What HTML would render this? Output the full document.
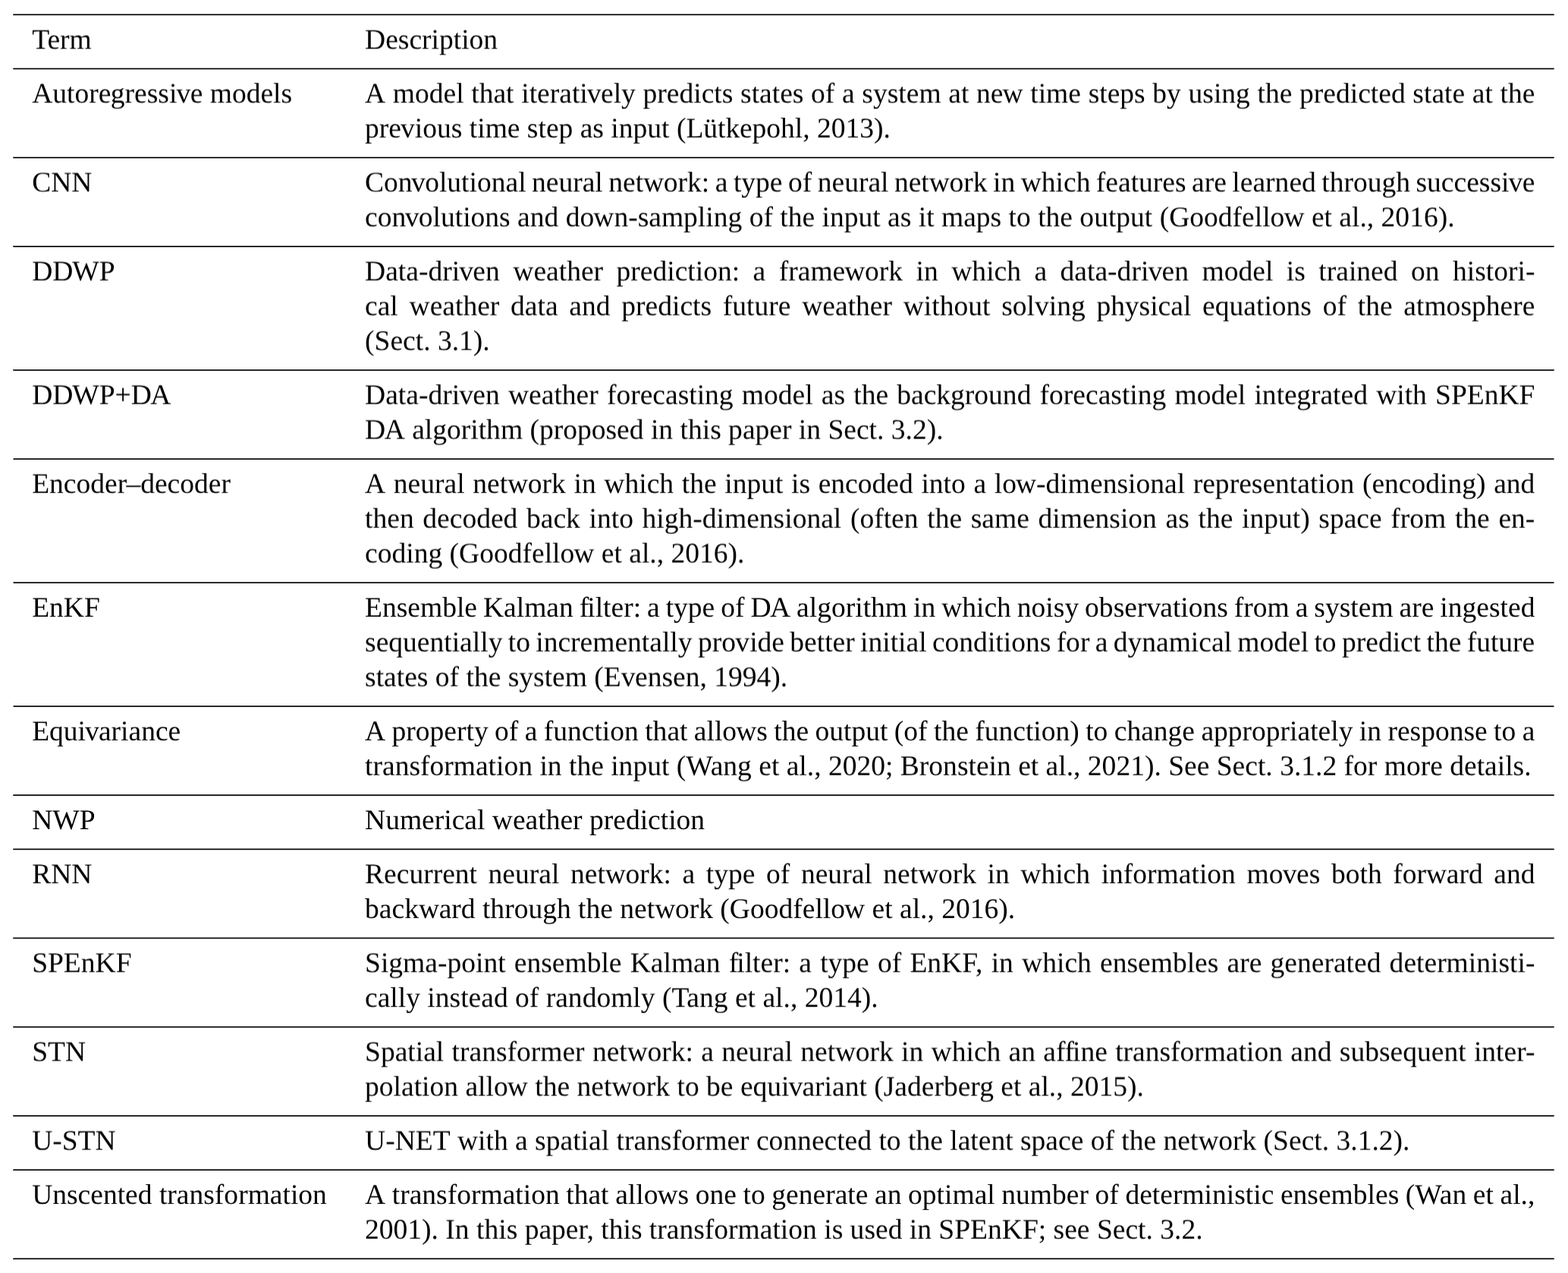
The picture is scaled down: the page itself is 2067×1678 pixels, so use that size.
<!DOCTYPE html>
<html lang="en"><head><meta charset="utf-8"><title>Glossary of terms</title>
<style>
html,body{margin:0;padding:0;background:#fff}
body{width:2067px;height:1678px;position:relative;overflow:hidden;font-family:"Liberation Serif","DejaVu Serif",serif;font-size:37.540px;line-height:46px;color:#000;font-kerning:none;font-variant-ligatures:none;text-rendering:geometricPrecision}
svg{position:absolute;left:0;top:0}
.l{position:absolute;white-space:pre;height:46px;margin:0}
</style></head><body>
<svg width="2067" height="1678" viewBox="0 0 2067 1678"><g fill="#000" stroke="none">
<rect x="17.50" y="18" width="2030.99" height="1" fill-opacity="0.515"/>
<rect x="17.10" y="19" width="2031.79" height="1"/>
<rect x="17.50" y="20" width="2030.99" height="1" fill-opacity="0.155"/>
<rect x="17.50" y="89" width="2030.99" height="1" fill-opacity="0.251"/>
<rect x="17.10" y="90" width="2031.79" height="1"/>
<rect x="17.50" y="91" width="2030.99" height="1" fill-opacity="0.419"/>
<rect x="17.50" y="206" width="2030.99" height="1" fill-opacity="0.112"/>
<rect x="17.10" y="207" width="2031.79" height="1"/>
<rect x="17.50" y="208" width="2030.99" height="1" fill-opacity="0.558"/>
<rect x="17.10" y="324" width="2031.79" height="1" fill-opacity="0.978"/>
<rect x="17.50" y="325" width="2030.99" height="1" fill-opacity="0.692"/>
<rect x="17.10" y="487" width="2031.79" height="1" fill-opacity="0.969"/>
<rect x="17.50" y="488" width="2030.99" height="1" fill-opacity="0.701"/>
<rect x="17.50" y="604" width="2030.99" height="1" fill-opacity="0.831"/>
<rect x="17.50" y="605" width="2030.99" height="1" fill-opacity="0.839"/>
<rect x="17.50" y="767" width="2030.99" height="1" fill-opacity="0.826"/>
<rect x="17.50" y="768" width="2030.99" height="1" fill-opacity="0.844"/>
<rect x="17.50" y="930" width="2030.99" height="1" fill-opacity="0.822"/>
<rect x="17.50" y="931" width="2030.99" height="1" fill-opacity="0.848"/>
<rect x="17.50" y="1047" width="2030.99" height="1" fill-opacity="0.683"/>
<rect x="17.10" y="1048" width="2031.79" height="1" fill-opacity="0.987"/>
<rect x="17.50" y="1118" width="2030.99" height="1" fill-opacity="0.415"/>
<rect x="17.10" y="1119" width="2031.79" height="1"/>
<rect x="17.50" y="1120" width="2030.99" height="1" fill-opacity="0.255"/>
<rect x="17.50" y="1235" width="2030.99" height="1" fill-opacity="0.281"/>
<rect x="17.10" y="1236" width="2031.79" height="1"/>
<rect x="17.50" y="1237" width="2030.99" height="1" fill-opacity="0.389"/>
<rect x="17.50" y="1352" width="2030.99" height="1" fill-opacity="0.142"/>
<rect x="17.10" y="1353" width="2031.79" height="1"/>
<rect x="17.50" y="1354" width="2030.99" height="1" fill-opacity="0.528"/>
<rect x="17.50" y="1469" width="2030.99" height="1" fill-opacity="0.008"/>
<rect x="17.10" y="1470" width="2031.79" height="1"/>
<rect x="17.50" y="1471" width="2030.99" height="1" fill-opacity="0.662"/>
<rect x="17.50" y="1541" width="2030.99" height="1" fill-opacity="0.739"/>
<rect x="17.10" y="1542" width="2031.79" height="1" fill-opacity="0.931"/>
<rect x="17.50" y="1658" width="2030.99" height="1" fill-opacity="0.601"/>
<rect x="17.10" y="1659" width="2031.79" height="1"/>
<rect x="17.50" y="1660" width="2030.99" height="1" fill-opacity="0.069"/>
</g>
<defs>
<filter id="s1" x="-1%" y="-15%" width="102%" height="130%" color-interpolation-filters="sRGB"><feConvolveMatrix order="1 3" kernelMatrix="0 0.875 0.125" targetX="0" targetY="1" divisor="1" edgeMode="none" preserveAlpha="false"/></filter>
<filter id="s2" x="-1%" y="-15%" width="102%" height="130%" color-interpolation-filters="sRGB"><feConvolveMatrix order="1 3" kernelMatrix="0 0.75 0.25" targetX="0" targetY="1" divisor="1" edgeMode="none" preserveAlpha="false"/></filter>
<filter id="s3" x="-1%" y="-15%" width="102%" height="130%" color-interpolation-filters="sRGB"><feConvolveMatrix order="1 3" kernelMatrix="0 0.625 0.375" targetX="0" targetY="1" divisor="1" edgeMode="none" preserveAlpha="false"/></filter>
<filter id="s4" x="-1%" y="-15%" width="102%" height="130%" color-interpolation-filters="sRGB"><feConvolveMatrix order="1 3" kernelMatrix="0 0.5 0.5" targetX="0" targetY="1" divisor="1" edgeMode="none" preserveAlpha="false"/></filter>
<filter id="s5" x="-1%" y="-15%" width="102%" height="130%" color-interpolation-filters="sRGB"><feConvolveMatrix order="1 3" kernelMatrix="0 0.375 0.625" targetX="0" targetY="1" divisor="1" edgeMode="none" preserveAlpha="false"/></filter>
<filter id="s6" x="-1%" y="-15%" width="102%" height="130%" color-interpolation-filters="sRGB"><feConvolveMatrix order="1 3" kernelMatrix="0 0.25 0.75" targetX="0" targetY="1" divisor="1" edgeMode="none" preserveAlpha="false"/></filter>
<filter id="s7" x="-1%" y="-15%" width="102%" height="130%" color-interpolation-filters="sRGB"><feConvolveMatrix order="1 3" kernelMatrix="0 0.125 0.875" targetX="0" targetY="1" divisor="1" edgeMode="none" preserveAlpha="false"/></filter>
</defs>
</svg>
<div role="table" aria-label="Glossary of terms">
<div role="row"><div role="columnheader">
<p class="l" style="left:42.13px;top:30px;filter:url(#s3)">T<span style="margin-left:-2.63px">erm</span></p>
</div><div role="columnheader">
<p class="l" style="left:481.04px;top:30px;filter:url(#s3)">Description</p>
</div></div>
<div role="row"><div role="cell">
<p class="l" style="left:42.13px;top:101px;filter:url(#s3)">Autore<span style="margin-left:-0.56px">gressi</span><span style="margin-left:-0.94px">v</span><span style="margin-left:-0.56px">e</span> models</p>
</div><div role="cell">
<p class="l" style="left:481.04px;top:101px;filter:url(#s3);word-spacing:0.281px">A model that iterati<span style="margin-left:-0.94px">v</span><span style="margin-left:-0.56px">ely</span> predicts states of a system at ne<span style="margin-left:-0.94px">w</span> time steps by using the predicted state at the </p>
<p class="l" style="left:481.05px;top:147px;filter:url(#s2)">pre<span style="margin-left:-0.94px">vious</span> time step as input (Lütk<span style="margin-left:-0.38px">epohl,</span> 2013).</p>
</div></div>
<div role="row"><div role="cell">
<p class="l" style="left:42.13px;top:218px;filter:url(#s4)">CNN</p>
</div><div role="cell">
<p class="l" style="left:481.04px;top:218px;filter:url(#s4);word-spacing:-1.920px">Con<span style="margin-left:-1.50px">v</span><span style="margin-left:-0.75px">olutional</span> neural netw<span style="margin-left:-0.38px">ork:</span> a type of neural netw<span style="margin-left:-0.38px">ork</span> in which features are learned through successi<span style="margin-left:-0.94px">v</span><span style="margin-left:-0.56px">e</span> </p>
<p class="l" style="left:481.05px;top:264px;filter:url(#s3)">con<span style="margin-left:-1.50px">v</span><span style="margin-left:-0.75px">olutions</span> and do<span style="margin-left:-0.94px">wn-sampling</span> of the input as it maps to the output (Goodfello<span style="margin-left:-0.94px">w</span> et al., 2016).</p>
</div></div>
<div role="row"><div role="cell">
<p class="l" style="left:42.13px;top:335px;filter:url(#s5)">DD<span style="margin-left:-1.13px">WP</span></p>
</div><div role="cell">
<p class="l" style="left:481.04px;top:335px;filter:url(#s5);word-spacing:8.103px">Data-dri<span style="margin-left:-0.94px">v</span><span style="margin-left:-0.56px">en</span> weather prediction: a frame<span style="margin-left:-0.94px">w</span><span style="margin-left:-0.38px">ork</span> in which a data-dri<span style="margin-left:-0.94px">v</span><span style="margin-left:-0.56px">en</span> model is trained on histori-</p>
<p class="l" style="left:481.05px;top:381px;filter:url(#s4);word-spacing:5.374px">cal weather data and predicts future weather without solving ph<span style="margin-left:-0.19px">ysical</span> equations of the atmosphere </p>
<p class="l" style="left:481.05px;top:427px;filter:url(#s3)">(Sect. 3.1).</p>
</div></div>
<div role="row"><div role="cell">
<p class="l" style="left:42.13px;top:498px;filter:url(#s5)">DD<span style="margin-left:-1.13px">WP+D</span><span style="margin-left:-1.50px">A</span></p>
</div><div role="cell">
<p class="l" style="left:481.04px;top:498px;filter:url(#s5);word-spacing:1.785px">Data-dri<span style="margin-left:-0.94px">v</span><span style="margin-left:-0.56px">en</span> weather forecasting model as the background forecasting model inte<span style="margin-left:-0.56px">grated</span> with SPEnKF </p>
<p class="l" style="left:481.05px;top:544px;filter:url(#s4)">D<span style="margin-left:-1.50px">A</span> algorithm (proposed in this paper in Sect. 3.2).</p>
</div></div>
<div role="row"><div role="cell">
<p class="l" style="left:42.13px;top:615px;filter:url(#s6)">Encoder<span style="margin-left:-0.75px">–decoder</span></p>
</div><div role="cell">
<p class="l" style="left:481.04px;top:615px;filter:url(#s6);word-spacing:1.271px">A neural netw<span style="margin-left:-0.38px">ork</span> in which the input is encoded into a lo<span style="margin-left:-0.94px">w-dimensional</span> representation (encoding) and </p>
<p class="l" style="left:481.05px;top:661px;filter:url(#s5);word-spacing:2.280px">then decoded back into high-dimensional (often the same dimension as the input) space from the en-</p>
<p class="l" style="left:481.05px;top:707px;filter:url(#s4)">coding (Goodfello<span style="margin-left:-0.94px">w</span> et al., 2016).</p>
</div></div>
<div role="row"><div role="cell">
<p class="l" style="left:42.13px;top:778px;filter:url(#s7)">EnKF</p>
</div><div role="cell">
<p class="l" style="left:481.04px;top:778px;filter:url(#s7);word-spacing:-1.427px">Ensemble Kalman f<span style="margin-left:-2.06px">i</span>lter: a type of D<span style="margin-left:-1.50px">A</span> algorithm in which noisy observ<span style="margin-left:-0.94px">ations</span> from a system are ingested </p>
<p class="l" style="left:481.05px;top:824px;filter:url(#s5);word-spacing:-2.065px">sequentially to incrementally pro<span style="margin-left:-0.56px">vide</span> better initial conditions for a dynamical model to predict the future </p>
<p class="l" style="left:481.05px;top:870px;filter:url(#s4)">states of the system (Ev<span style="margin-left:-0.56px">ensen,</span> 1994).</p>
</div></div>
<div role="row"><div role="cell">
<p class="l" style="left:42.13px;top:941px;filter:url(#s7)">Equi<span style="margin-left:-0.94px">v</span><span style="margin-left:-0.94px">ariance</span></p>
</div><div role="cell">
<p class="l" style="left:481.04px;top:941px;filter:url(#s7);word-spacing:-1.001px">A property of a function that allo<span style="margin-left:-0.94px">ws</span> the output (of the function) to change appropriately in response to a </p>
<p class="l" style="left:481.05px;top:987px;filter:url(#s6)">transformation in the input (W<span style="margin-left:-3.00px">ang</span> et al., 2020; Bronstein et al., 2021). See Sect. 3.1.2 for more details.</p>
</div></div>
<div role="row"><div role="cell">
<p class="l" style="left:42.13px;top:1059px">NWP</p>
</div><div role="cell">
<p class="l" style="left:481.04px;top:1059px">Numerical weather prediction</p>
</div></div>
<div role="row"><div role="cell">
<p class="l" style="left:42.13px;top:1130px;filter:url(#s2)">RNN</p>
</div><div role="cell">
<p class="l" style="left:481.04px;top:1130px;filter:url(#s2);word-spacing:5.215px">Recurrent neural netw<span style="margin-left:-0.38px">ork:</span> a type of neural netw<span style="margin-left:-0.38px">ork</span> in which information mo<span style="margin-left:-0.56px">v</span><span style="margin-left:-0.56px">es</span> both forw<span style="margin-left:-0.38px">ard</span> and </p>
<p class="l" style="left:481.05px;top:1176px;filter:url(#s1)">backw<span style="margin-left:-0.38px">ard</span> through the netw<span style="margin-left:-0.38px">ork</span> (Goodfello<span style="margin-left:-0.94px">w</span> et al., 2016).</p>
</div></div>
<div role="row"><div role="cell">
<p class="l" style="left:42.13px;top:1247px;filter:url(#s3)">SPEnKF</p>
</div><div role="cell">
<p class="l" style="left:481.04px;top:1247px;filter:url(#s3);word-spacing:1.819px">Sigma-point ensemble Kalman f<span style="margin-left:-2.06px">i</span>lter: a type of EnKF<span style="margin-left:-3.00px">,</span> in which ensembles are generated deterministi-</p>
<p class="l" style="left:481.05px;top:1293px;filter:url(#s2)">cally instead of randomly (T<span style="margin-left:-3.00px">ang</span> et al., 2014).</p>
</div></div>
<div role="row"><div role="cell">
<p class="l" style="left:42.13px;top:1364px;filter:url(#s4)">STN</p>
</div><div role="cell">
<p class="l" style="left:481.04px;top:1364px;filter:url(#s4);word-spacing:0.898px">Spatial transformer netw<span style="margin-left:-0.38px">ork:</span> a neural netw<span style="margin-left:-0.38px">ork</span> in which an af<span style="margin-left:-0.94px">f</span><span style="margin-left:-2.06px">i</span>ne transformation and subsequent inter<span style="margin-left:-0.75px">-</span></p>
<p class="l" style="left:481.05px;top:1410px;filter:url(#s3)">polation allo<span style="margin-left:-0.94px">w</span> the netw<span style="margin-left:-0.38px">ork</span> to be equi<span style="margin-left:-0.94px">v</span><span style="margin-left:-0.94px">ariant</span> (Jaderber<span style="margin-left:-0.68px">g</span> et al., 2015).</p>
</div></div>
<div role="row"><div role="cell">
<p class="l" style="left:42.13px;top:1481px;filter:url(#s5)">U-STN</p>
</div><div role="cell">
<p class="l" style="left:481.04px;top:1481px;filter:url(#s5)">U-NET with a spatial transformer connected to the latent space of the netw<span style="margin-left:-0.38px">ork</span> (Sect. 3.1.2).</p>
</div></div>
<div role="row"><div role="cell">
<p class="l" style="left:42.13px;top:1552px;filter:url(#s7)">Unscented transformation</p>
</div><div role="cell">
<p class="l" style="left:481.04px;top:1552px;filter:url(#s7);word-spacing:-0.793px">A transformation that allo<span style="margin-left:-0.94px">ws</span> one to generate an optimal number of deterministic ensembles (W<span style="margin-left:-3.00px">an</span> et al., </p>
<p class="l" style="left:481.05px;top:1598px;filter:url(#s6)">2001). In this paper<span style="margin-left:-1.50px">,</span> this transformation is used in SPEnKF; see Sect. 3.2.</p>
</div></div></div>
</body></html>
